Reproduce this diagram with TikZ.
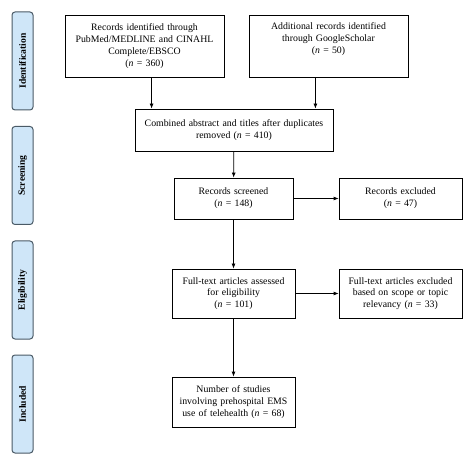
\documentclass[tikz,border=0pt]{standalone}
\usepackage{fontspec}
\setmainfont{Liberation Serif}
\usepackage{tikz}
\usetikzlibrary{arrows.meta,positioning,calc}
\definecolor{phase}{HTML}{CFE6F8}
\definecolor{phaseline}{HTML}{4A5A66}
\newcommand{\nn}{\textit{n}}

\begin{document}
\begin{tikzpicture}[x=1pt,y=-1pt,
    box/.style={rectangle, draw, line width=0.8pt, align=center, inner xsep=0pt, inner ysep=2pt, text width=#1, minimum width=#1, font=\fontsize{9.8}{11.8}\selectfont},
    phasebox/.style={rectangle, rounded corners=3pt, draw=phaseline, line width=1pt, fill=phase, minimum width=21pt, minimum height=98pt, inner sep=0pt},
    phasetext/.style={rotate=90, font=\fontsize{9.6}{11}\selectfont\bfseries},
    arrow/.style={-{Latex[length=5pt,width=4pt]}, line width=0.8pt}
]
\useasboundingbox (0,0) rectangle (474,465);

% phases
\node[phasebox] (pid) at (22.5,61) {};
\node[phasetext] at (pid) {Identification};
\node[phasebox] (pscr) at (22.5,175.5) {};
\node[phasetext] at (pscr) {Screening};
\node[phasebox] (pel) at (22.5,290) {};
\node[phasetext] at (pel) {Eligibility};
\node[phasebox] (pinc) at (22.5,404) {};
\node[phasetext] at (pinc) {Included};

% boxes
\node[box=159pt, minimum height=62pt] (rec) at (144.5,46) {Records identified through\\PubMed/MEDLINE and CINAHL\\Complete/EBSCO\\(\nn{} = 360)};
\node[box=159pt, minimum height=62pt] (add) at (328.5,46) {Additional records identified\\through GoogleScholar\\(\nn{} = 50)\\\strut};
\node[box=198pt, minimum height=42pt] (comb) at (234,130) {Combined abstract and titles after duplicates\\removed (\nn{} = 410)};
\node[box=119pt, minimum height=41pt] (scr) at (233.5,198.5) {Records screened\\(\nn{} = 148)};
\node[box=123pt, minimum height=41pt] (excl) at (400.5,198.5) {Records excluded\\(\nn{} = 47)};
\node[box=123pt, minimum height=49pt] (full) at (233.5,293.5) {Full-text articles assessed\\for eligibility\\(\nn{} = 101)};
\node[box=123pt, minimum height=49pt] (fexcl) at (400.5,293.5) {Full-text articles excluded\\based on scope or topic\\relevancy (\nn{} = 33)};
\node[box=123pt, minimum height=50pt] (incl) at (233.5,402) {Number of studies\\involving prehospital EMS\\use of telehealth (\nn{} = 68)};

% arrows
\coordinate (in1) at ($(comb.north west)+(17,0)$);
\coordinate (in2) at ($(comb.north east)+(-18,0)$);
\draw[arrow] (rec.south -| in1) -- (in1);
\draw[arrow] (add.south -| in2) -- (in2);
\draw[arrow] (comb) -- (scr);
\draw[arrow] (scr) -- (full);
\draw[arrow] (full) -- (incl);
\draw[arrow] (scr) -- (excl);
\draw[arrow] (full) -- (fexcl);
\end{tikzpicture}
\end{document}
